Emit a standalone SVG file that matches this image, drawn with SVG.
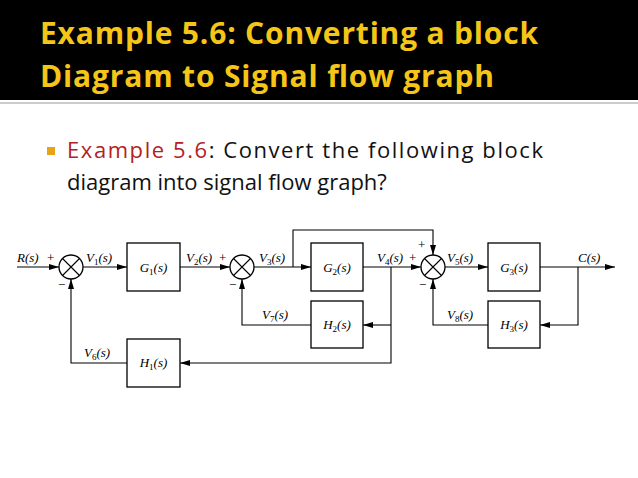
<svg xmlns="http://www.w3.org/2000/svg" width="638" height="478" viewBox="0 0 638 478">
<defs>
<marker id="ar" markerWidth="10" markerHeight="6" refX="10" refY="3" orient="auto" markerUnits="userSpaceOnUse"><path d="M0,0 L10,3 L0,6 Z" fill="#000"/></marker>
</defs>
<style>
.t{font-family:"Open Sans","Liberation Sans",sans-serif;font-weight:bold;font-size:30px;fill:#F5C518}
.b{font-family:"Open Sans","Liberation Sans",sans-serif;font-size:22px;fill:#111}
.m{font-family:"Liberation Serif",serif;font-style:italic;font-size:13px;fill:#000}
.s{font-family:"Liberation Serif",serif;font-size:13px;fill:#000}
.box{fill:#fff;stroke:#000;stroke-width:1.3}
.w{fill:none;stroke:#000;stroke-width:1.1}
</style>
<rect width="638" height="478" fill="#fff"/>
<rect width="638" height="100" fill="#000"/>
<line x1="0" y1="103" x2="638" y2="103" stroke="#bbb" stroke-width="1.5"/>
<text class="t" x="40" y="44" textLength="498">Example 5.6: Converting a block</text>
<text class="t" x="40" y="87" textLength="454">Diagram to Signal flow graph</text>
<rect x="47" y="147" width="8" height="8" fill="#E8A317"/>
<text class="b" x="67" y="158" textLength="476"><tspan fill="#B22222">Example 5.6</tspan>: Convert the following block</text>
<text class="b" x="67" y="190">diagram into signal flow graph?</text>

<g id="connectors" class="w">
<line x1="17" y1="267" x2="59" y2="267" marker-end="url(#ar)"/>
<line x1="83" y1="267" x2="127" y2="267" marker-end="url(#ar)"/>
<line x1="180" y1="267" x2="230" y2="267" marker-end="url(#ar)"/>
<line x1="254" y1="267" x2="311" y2="267" marker-end="url(#ar)"/>
<polyline points="293,267 293,230 433,230 433,255" marker-end="url(#ar)"/>
<line x1="363" y1="267" x2="421" y2="267" marker-end="url(#ar)"/>
<line x1="445" y1="267" x2="488" y2="267" marker-end="url(#ar)"/>
<line x1="540" y1="267" x2="615" y2="267" marker-end="url(#ar)"/>
<polyline points="578,267 578,325 540,325" marker-end="url(#ar)"/>
<polyline points="488,325 433,325 433,279" marker-end="url(#ar)"/>
<polyline points="391,267 391,363 180,363" marker-end="url(#ar)"/>
<line x1="391" y1="325" x2="363" y2="325" marker-end="url(#ar)"/>
<polyline points="311,325 242,325 242,279" marker-end="url(#ar)"/>
<polyline points="127,363 71,363 71,279" marker-end="url(#ar)"/>
</g>

<g id="sum1"><circle cx="71" cy="267" r="12" class="box"/><path d="M62.5,258.5 L79.5,275.5 M79.5,258.5 L62.5,275.5" class="w"/></g>
<g id="sum2"><circle cx="242" cy="267" r="12" class="box"/><path d="M233.5,258.5 L250.5,275.5 M250.5,258.5 L233.5,275.5" class="w"/></g>
<g id="sum3"><circle cx="433" cy="267" r="12" class="box"/><path d="M424.5,258.5 L441.5,275.5 M441.5,258.5 L424.5,275.5" class="w"/></g>
<g id="G1"><rect x="127" y="243" width="53" height="48" class="box"/><text class="m" x="153.5" y="272" text-anchor="middle">G<tspan font-style="normal" font-size="9" dy="3">1</tspan><tspan dy="-3">(s)</tspan></text></g>
<g id="G2"><rect x="311" y="243" width="52" height="48" class="box"/><text class="m" x="337" y="272" text-anchor="middle">G<tspan font-style="normal" font-size="9" dy="3">2</tspan><tspan dy="-3">(s)</tspan></text></g>
<g id="G3"><rect x="488" y="243" width="52" height="48" class="box"/><text class="m" x="514" y="272" text-anchor="middle">G<tspan font-style="normal" font-size="9" dy="3">3</tspan><tspan dy="-3">(s)</tspan></text></g>
<g id="H1"><rect x="127" y="339" width="53" height="48" class="box"/><text class="m" x="153.5" y="367" text-anchor="middle">H<tspan font-style="normal" font-size="9" dy="3">1</tspan><tspan dy="-3">(s)</tspan></text></g>
<g id="H2"><rect x="311" y="301" width="52" height="47" class="box"/><text class="m" x="337" y="329" text-anchor="middle">H<tspan font-style="normal" font-size="9" dy="3">2</tspan><tspan dy="-3">(s)</tspan></text></g>
<g id="H3"><rect x="488" y="301" width="52" height="47" class="box"/><text class="m" x="514" y="329" text-anchor="middle">H<tspan font-style="normal" font-size="9" dy="3">3</tspan><tspan dy="-3">(s)</tspan></text></g>

<g id="labels">
<text class="m" x="17" y="262">R(s)</text>
<text class="s" x="47" y="262">+</text>
<text class="s" x="58" y="289">−</text>
<text class="m" x="86" y="262">V<tspan font-style="normal" font-size="9" dy="3">1</tspan><tspan dy="-3">(s)</tspan></text>
<text class="m" x="186" y="262">V<tspan font-style="normal" font-size="9" dy="3">2</tspan><tspan dy="-3">(s)</tspan></text>
<text class="s" x="219" y="262">+</text>
<text class="s" x="229" y="289">−</text>
<text class="m" x="259" y="262">V<tspan font-style="normal" font-size="9" dy="3">3</tspan><tspan dy="-3">(s)</tspan></text>
<text class="m" x="262" y="319">V<tspan font-style="normal" font-size="9" dy="3">7</tspan><tspan dy="-3">(s)</tspan></text>
<text class="m" x="84" y="357">V<tspan font-style="normal" font-size="9" dy="3">6</tspan><tspan dy="-3">(s)</tspan></text>
<text class="m" x="377" y="262">V<tspan font-style="normal" font-size="9" dy="3">4</tspan><tspan dy="-3">(s)</tspan></text>
<text class="s" x="409" y="262">+</text>
<text class="s" x="418" y="249">+</text>
<text class="s" x="419" y="289">−</text>
<text class="m" x="447" y="262">V<tspan font-style="normal" font-size="9" dy="3">5</tspan><tspan dy="-3">(s)</tspan></text>
<text class="m" x="447" y="319">V<tspan font-style="normal" font-size="9" dy="3">8</tspan><tspan dy="-3">(s)</tspan></text>
<text class="m" x="578" y="262">C(s)</text>
</g>
</svg>
